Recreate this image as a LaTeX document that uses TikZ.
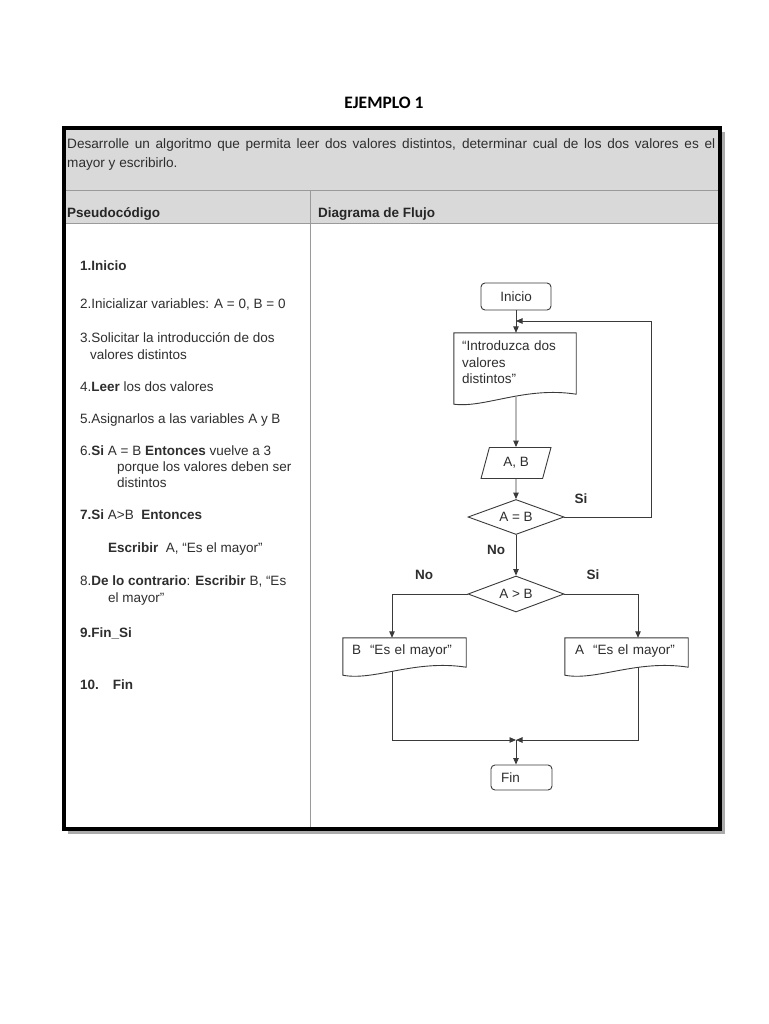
\documentclass[tikz,border=0pt]{standalone}
\usepackage{fontspec}
\setmainfont{Liberation Sans}
\newfontfamily\titlefont{Carlito}
\usetikzlibrary{shapes.geometric,arrows.meta,calc}
\definecolor{txt}{HTML}{2E2E2E}
\definecolor{ln}{HTML}{3A3A3A}
\definecolor{hdr}{HTML}{D9D9D9}
\definecolor{gridc}{HTML}{9A9A9A}
\definecolor{shadowc}{HTML}{ABABAB}
\begin{document}
\begin{tikzpicture}[x=1pt,y=-1pt,
  pc/.style={anchor=base west, inner sep=0pt, text=txt, font=\fontsize{13.5}{16.5}\selectfont},
  hd/.style={anchor=base west, inner sep=0pt, text=black!85, font=\fontsize{13.5}{16.5}\selectfont\bfseries},
  fc/.style={text=txt, font=\fontsize{13.5}{16.5}\selectfont},
  flow/.style={draw=ln, line width=0.9pt},
  arr/.style={flow, -{Triangle[length=6.5pt,width=5.5pt]}},
  term/.style={fc, draw=ln, line width=0.9pt, rounded corners=4pt, inner sep=0pt},
  docbox/.style={fc, inner sep=0pt, align=left},
  decision/.style={fc, draw=ln, line width=0.9pt, diamond, aspect=2.7, inner sep=0pt},
  lbl/.style={text=txt, font=\fontsize{13.5}{15}\selectfont\bfseries, inner sep=0pt},
]
\useasboundingbox (0,0) rectangle (768,1024);
\fill[white] (0,0) rectangle (768,1024);

% title
\node[font=\titlefont\fontsize{17.5}{20}\selectfont\bfseries, text=black] (title) at (384,103) {EJEMPLO 1};

% table
\fill[shadowc] (68,132) rectangle (725,834);
\fill[white] (64,128) rectangle (720,829);
\fill[hdr] (64,128) rectangle (720,223);
\draw[gridc, line width=0.8pt] (64,190) -- (720,190);
\draw[gridc, line width=0.8pt] (64,223) -- (720,223);
\draw[gridc, line width=0.8pt] (310,190) -- (310,829);
\draw[black, line width=4pt] (64,128) rectangle (720,829);

% description
\node[pc, font=\fontsize{13.6}{19}\selectfont] (desc1) at (67,149) {\makebox[648pt][s]{Desarrolle un algoritmo que permita leer dos valores distintos, determinar cual de los dos valores es el}};
\node[pc, font=\fontsize{13.6}{19}\selectfont] (desc2) at (67,168) {mayor y escribirlo.};

% headers
\node[hd] (hpseudo) at (67,218) {Pseudocódigo};
\node[hd] (hdiag) at (318,218) {Diagrama de Flujo};

% pseudocode
\node[pc] (p1) at (80,270) {\textbf{1.Inicio}};
\node[pc] (p2) at (80,308) {2.Inicializar variables: A = 0, B = 0};
\node[pc] (p3) at (80,342) {3.Solicitar la introducción de dos};
\node[pc] (p3b) at (90,359) {valores distintos};
\node[pc] (p4) at (80,391) {4.\textbf{Leer} los dos valores};
\node[pc] (p5) at (80,423) {5.Asignarlos a las variables A y B};
\node[pc] (p6) at (80,455) {6.\textbf{Si} A = B \textbf{Entonces} vuelve a 3};
\node[pc] (p6b) at (117,471) {porque los valores deben ser};
\node[pc] (p6c) at (117,487) {distintos};
\node[pc] (p7) at (80,519) {\textbf{7.Si} A>B\ \ \textbf{Entonces}};
\node[pc] (p7b) at (108,552) {\textbf{Escribir}\ \ A, “Es el mayor”};
\node[pc] (p8) at (80,585) {8.\textbf{De lo contrario}: \textbf{Escribir} B, “Es};
\node[pc] (p8b) at (108,602) {el mayor”};
\node[pc] (p9) at (80,637) {\textbf{9.Fin\_Si}};
\node[pc] (p10) at (80,689) {\textbf{10.\hspace{14pt}Fin}};

% flowchart nodes
\node[term, minimum width=70, minimum height=27] (inicio) at (516,296.5) {Inicio};
\node[docbox, minimum width=122, minimum height=59, text width=106] (doc1) at (515,362.5) {“Introduzca dos\\valores\\distintos”};
\node[fc, draw=ln, line width=0.9pt, trapezium, trapezium left angle=70, trapezium right angle=110, trapezium stretches=true, minimum width=70, minimum height=31, inner sep=0pt] (ab) at (516,463) {A, B};
\node[decision, minimum width=96, minimum height=35] (d1) at (516,517) {A = B};
\node[decision, minimum width=96, minimum height=36] (d2) at (516,594) {A > B};
\node[docbox, minimum width=123, minimum height=27, text width=105] (docB) at (404.5,651.5) {B\ \ “Es el mayor”};
\node[docbox, minimum width=123, minimum height=27, text width=103] (docA) at (626.5,651.5) {A\ \ “Es el mayor”};
\node[term, minimum width=61, minimum height=25, text width=41, align=left] (fin) at (521.5,777.5) {Fin};

% document outlines
\foreach \n/\l in {doc1/12, docB/10, docA/10}
  \draw[flow] (\n.north west) -- (\n.north east) -- ($(\n.south east)+(0,2)$)
    .. controls ($(\n.south)+(10,-6)$) and ($(\n.south)+(-30,16)$) .. ($(\n.south west)+(0,\l)$) -- cycle;

% labels
\node[lbl] (si1) at (581,499) {Si};
\node[lbl] (no1) at (496,550) {No};
\node[lbl] (no2) at (424,575) {No};
\node[lbl] (si2) at (593,575) {Si};

% connectors
\coordinate (loopin) at (516,321);
\coordinate (loopc) at (651,321);
\coordinate (merge) at (516,740);
\draw[arr] (inicio.south) -- (inicio.south |- doc1.north);
\draw[arr] (d1.east) -| (loopc) -- (loopin);
\draw[arr] ($(doc1.south)+(1,5)$) -- (ab.north);
\draw[arr] (ab.south) -- (d1.north);
\draw[arr] (d1.south) -- (d2.north);
\draw[arr] (d2.west) -| ($(docB.north)+(-12.5,0)$);
\draw[arr] (d2.east) -| ($(docA.north)+(11.5,0)$);
\draw[arr] ($(docB.south)+(-12.5,6)$) |- (merge);
\draw[arr] ($(docA.south)+(11.5,2)$) |- (merge);
\draw[arr] (merge) -- (merge |- fin.north);
\end{tikzpicture}
\end{document}
